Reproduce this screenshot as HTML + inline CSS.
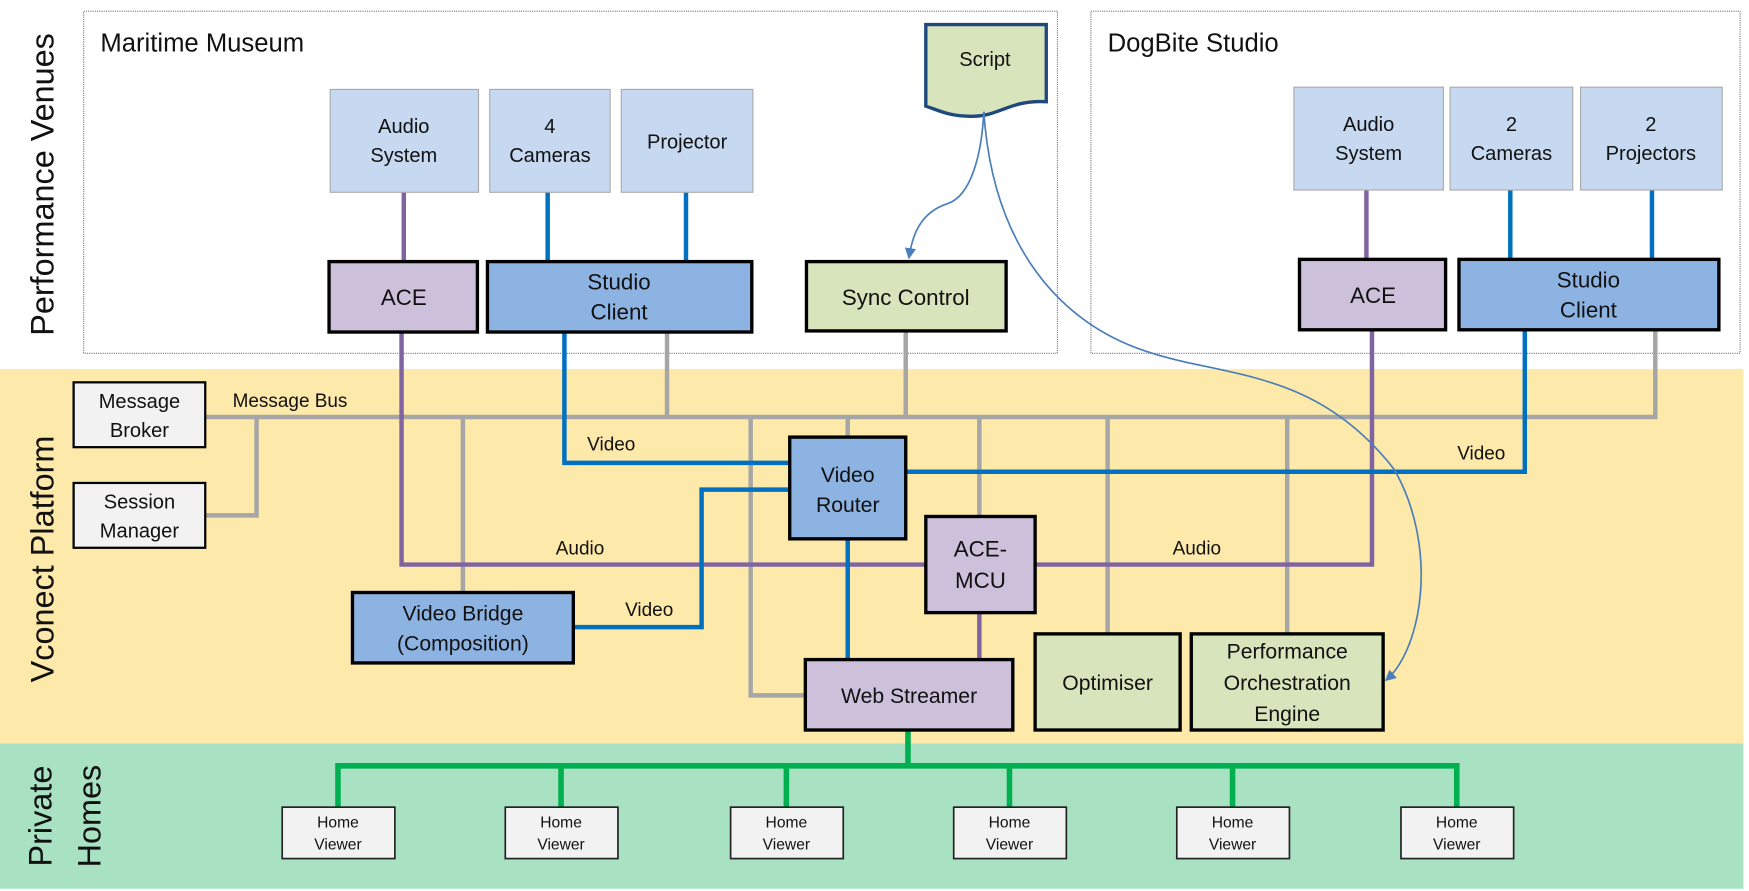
<!DOCTYPE html>
<html><head><meta charset="utf-8"><style>
html,body{margin:0;padding:0;background:#fff}
svg{display:block}
text{font-family:"Liberation Sans",sans-serif;fill:#111}
</style></head><body>
<svg width="1749" height="891" viewBox="0 0 1568 797" preserveAspectRatio="none" xmlns="http://www.w3.org/2000/svg">
<defs>
<marker id="ar" markerWidth="10" markerHeight="10" refX="8" refY="5" orient="auto" markerUnits="userSpaceOnUse"><path d="M0,0 L10,5 L0,10 z" fill="#4a7ebb"/></marker>
</defs>
<rect x="0" y="0" width="1568" height="797" fill="#fff"/>
<rect x="0" y="330" width="1563" height="335" fill="#fde9a9"/>
<rect x="0" y="665" width="1563" height="130" fill="#a9e2c3"/>
<rect x="75" y="10" width="873" height="306" fill="none" stroke="#777" stroke-dasharray="1,1"/>
<rect x="978" y="10" width="582" height="306" fill="none" stroke="#777" stroke-dasharray="1,1"/>
<text transform="translate(48,165) rotate(-90)" font-size="29" text-anchor="middle" fill="#111">Performance Venues</text>
<text transform="translate(48,500) rotate(-90)" font-size="29" text-anchor="middle">Vconect Platform</text>
<text transform="translate(46,730) rotate(-90)" font-size="29" text-anchor="middle">Private</text>
<text transform="translate(90,730) rotate(-90)" font-size="29" text-anchor="middle">Homes</text>
<text x="90" y="46" font-size="23">Maritime Museum</text>
<text x="993" y="46" font-size="23">DogBite Studio</text>

<g stroke-width="4" fill="none">
<!-- gray bus -->
<g stroke="#a6a6a6">
<path d="M184,373 H1484 V295"/>
<path d="M184,461 H230 V373"/>
<path d="M415,373 V530"/>
<path d="M598,373 V297"/>
<path d="M673,373 V622 H722"/>
<path d="M760,373 V391"/>
<path d="M812,373 V296"/>
<path d="M878,373 V462"/>
<path d="M993,373 V567"/>
<path d="M1154,373 V567"/>
</g>
<g stroke="#8064a2">
<path d="M362,172 V234"/><path d="M1225,170 V232"/>
<path d="M360,297 V505 H1230 V295"/>
<path d="M878,548 V590"/>
</g>
<g stroke="#0070c0">
<path d="M491,172 V234"/><path d="M615,172 V234"/>
<path d="M1354,170 V232"/><path d="M1481,170 V232"/>
<path d="M506,297 V414 H708"/>
<path d="M812,422 H1367 V295"/>
<path d="M514,561 H629 V438 H708"/>
<path d="M760,482 V590"/>
</g>
<g stroke="#00b050" stroke-width="5">
<path d="M814,653 V685"/>
<path d="M303,722 V685 H1306 V722"/>
<path d="M503,685 V722 M705,685 V722 M905,685 V722 M1105,685 V722"/>
</g>
</g>

<g font-size="18" text-anchor="middle">
<!-- Maritime devices -->
<rect x="296" y="80" width="133" height="92" fill="#c6d9f0" stroke="#aaa"/>
<text x="362" y="119">Audio</text><text x="362" y="145">System</text>
<rect x="439" y="80" width="108" height="92" fill="#c6d9f0" stroke="#aaa"/>
<text x="493" y="119">4</text><text x="493" y="145">Cameras</text>
<rect x="557" y="80" width="118" height="92" fill="#c6d9f0" stroke="#aaa"/>
<text x="616" y="133">Projector</text>
<rect x="295" y="234" width="133" height="63" fill="#ccc0da" stroke="#000" stroke-width="3"/>
<text x="362" y="273" font-size="20">ACE</text>
<rect x="437" y="234" width="237" height="63" fill="#8db3e2" stroke="#000" stroke-width="3"/>
<text x="555" y="259" font-size="20">Studio</text><text x="555" y="286" font-size="20">Client</text>
<rect x="723" y="234" width="179" height="62" fill="#d7e4bc" stroke="#000" stroke-width="3"/>
<text x="812" y="273" font-size="20">Sync  Control</text>
<path d="M830,22 H938 V91 C905,89 895,105 870,104 C850,104 840,98 830,95 Z" fill="#d7e4bc" stroke="#1f497d" stroke-width="3"/>
<text x="883" y="59">Script</text>
<!-- DogBite devices -->
<rect x="1160" y="78" width="134" height="92" fill="#c6d9f0" stroke="#aaa"/>
<text x="1227" y="117">Audio</text><text x="1227" y="143">System</text>
<rect x="1300" y="78" width="110" height="92" fill="#c6d9f0" stroke="#aaa"/>
<text x="1355" y="117">2</text><text x="1355" y="143">Cameras</text>
<rect x="1417" y="78" width="127" height="92" fill="#c6d9f0" stroke="#aaa"/>
<text x="1480" y="117">2</text><text x="1480" y="143">Projectors</text>
<rect x="1165" y="232" width="131" height="63" fill="#ccc0da" stroke="#000" stroke-width="3"/>
<text x="1231" y="271" font-size="20">ACE</text>
<rect x="1308" y="232" width="233" height="63" fill="#8db3e2" stroke="#000" stroke-width="3"/>
<text x="1424" y="257" font-size="20">Studio</text><text x="1424" y="284" font-size="20">Client</text>
<!-- platform -->
<rect x="66" y="342" width="118" height="58" fill="#f2f2f2" stroke="#000" stroke-width="2"/>
<text x="125" y="365">Message</text><text x="125" y="391">Broker</text>
<rect x="66" y="432" width="118" height="58" fill="#f2f2f2" stroke="#000" stroke-width="2"/>
<text x="125" y="455">Session</text><text x="125" y="481">Manager</text>
<text x="260" y="364" font-size="17">Message Bus</text>
<text x="548" y="403" font-size="17">Video</text>
<text x="1328" y="411" font-size="17">Video</text>
<text x="582" y="551" font-size="17">Video</text>
<text x="520" y="496" font-size="17">Audio</text>
<text x="1073" y="496" font-size="17">Audio</text>
<rect x="708" y="391" width="104" height="91" fill="#8db3e2" stroke="#000" stroke-width="3"/>
<text x="760" y="431" font-size="19">Video</text><text x="760" y="458" font-size="19">Router</text>
<rect x="830" y="462" width="98" height="86" fill="#ccc0da" stroke="#000" stroke-width="3"/>
<text x="879" y="498" font-size="20">ACE-</text><text x="879" y="526" font-size="20">MCU</text>
<rect x="316" y="530" width="198" height="63" fill="#8db3e2" stroke="#000" stroke-width="3"/>
<text x="415" y="555" font-size="19">Video Bridge</text><text x="415" y="582" font-size="19">(Composition)</text>
<rect x="722" y="590" width="186" height="63" fill="#ccc0da" stroke="#000" stroke-width="3"/>
<text x="815" y="629" font-size="19">Web Streamer</text>
<rect x="928" y="567" width="130" height="86" fill="#d7e4bc" stroke="#000" stroke-width="3"/>
<text x="993" y="617" font-size="19">Optimiser</text>
<rect x="1068" y="567" width="172" height="86" fill="#d7e4bc" stroke="#000" stroke-width="3"/>
<text x="1154" y="589" font-size="19">Performance</text><text x="1154" y="617" font-size="19">Orchestration</text><text x="1154" y="645" font-size="19">Engine</text>
<!-- home viewers -->
<g font-size="14">
<rect x="253" y="722" width="101" height="46" fill="#f2f2f2" stroke="#222" stroke-width="1.5"/><text x="303" y="740">Home</text><text x="303" y="760">Viewer</text>
<rect x="453" y="722" width="101" height="46" fill="#f2f2f2" stroke="#222" stroke-width="1.5"/><text x="503" y="740">Home</text><text x="503" y="760">Viewer</text>
<rect x="655" y="722" width="101" height="46" fill="#f2f2f2" stroke="#222" stroke-width="1.5"/><text x="705" y="740">Home</text><text x="705" y="760">Viewer</text>
<rect x="855" y="722" width="101" height="46" fill="#f2f2f2" stroke="#222" stroke-width="1.5"/><text x="905" y="740">Home</text><text x="905" y="760">Viewer</text>
<rect x="1055" y="722" width="101" height="46" fill="#f2f2f2" stroke="#222" stroke-width="1.5"/><text x="1105" y="740">Home</text><text x="1105" y="760">Viewer</text>
<rect x="1256" y="722" width="101" height="46" fill="#f2f2f2" stroke="#222" stroke-width="1.5"/><text x="1306" y="740">Home</text><text x="1306" y="760">Viewer</text>
</g>
</g>
<!-- script curves -->
<path d="M882,100 C880,140 870,175 850,182 C825,190 818,210 815,230" fill="none" stroke="#4a7ebb" stroke-width="1.5" marker-end="url(#ar)"/>
<path d="M882,100 C890,220 950,290 1030,315 C1100,338 1180,330 1250,420 C1290,490 1275,580 1243,608" fill="none" stroke="#4a7ebb" stroke-width="1.5" marker-end="url(#ar)"/>
</svg>
</body></html>
